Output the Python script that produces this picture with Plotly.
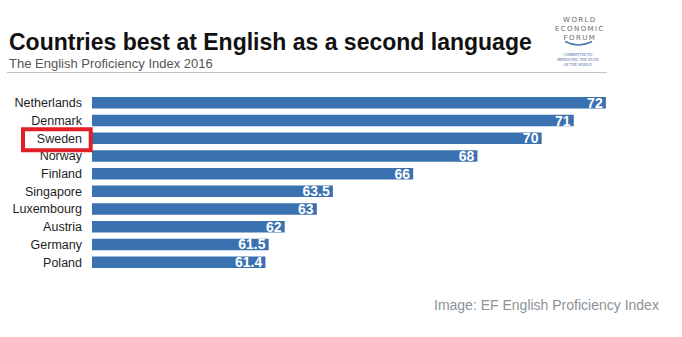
import plotly.graph_objects as go

countries = ["Netherlands", "Denmark", "Sweden", "Norway", "Finland",
             "Singapore", "Luxembourg", "Austria", "Germany", "Poland"]
scores = [72, 71, 70, 68, 66, 63.5, 63, 62, 61.5, 61.4]
score_labels = ["72", "71", "70", "68", "66", "63.5", "63", "62", "61.5", "61.4"]

title_text = "Countries best at English as a second language"
subtitle_text = "The English Proficiency Index 2016"
source_text = "Image: EF English Proficiency Index"
logo_words = ["WORLD", "ECONOMIC", "FORUM"]
tagline_text = "COMMITTED TO<br>IMPROVING THE STATE<br>OF THE WORLD"
highlight = "Sweden"

W, H = 682, 337
ML, MR, MT, MB = 92, 44, 94, 66
PW, PH = W - ML - MR, H - MT - MB
FONT = "Liberation Sans, Arial, Helvetica, sans-serif"


def px(x):
    return (x - ML) / PW


def py(y):
    return (H - MB - y) / PH


fig = go.Figure()
fig.add_trace(go.Bar(
    x=scores, y=countries, orientation="h",
    marker=dict(color="#3a71b1", line=dict(width=0)),
    text=score_labels, textposition="inside", insidetextanchor="end",
    textangle=0, constraintext="none",
    textfont=dict(family=FONT, size=14, color="white", weight="bold"),
    hoverinfo="skip",
))

fig.update_layout(
    width=W, height=H,
    margin=dict(l=ML, r=MR, t=MT, b=MB),
    paper_bgcolor="white", plot_bgcolor="white",
    bargap=0.35, showlegend=False,
    font=dict(family=FONT),
)
fig.update_xaxes(range=[56, 73], visible=False, showgrid=False, zeroline=False)
fig.update_yaxes(type="category", categoryorder="array", categoryarray=countries,
                 autorange="reversed", showgrid=False, zeroline=False, showline=False,
                 ticks="", ticklabelstandoff=9,
                 tickfont=dict(family=FONT, size=12.5, color="#1e1e1e"))

ann = []
ann.append(dict(text="<b>" + title_text + "</b>", x=px(7), y=py(42.5), xanchor="left",
                yanchor="middle", font=dict(family=FONT, size=23, color="#111111")))
ann.append(dict(text=subtitle_text, x=px(7), y=py(63.5), xanchor="left",
                yanchor="middle", font=dict(family=FONT, size=13, color="#555555")))
ann.append(dict(text=source_text, x=px(661), y=py(305), xanchor="right",
                yanchor="middle", font=dict(family=FONT, size=14, color="#8c9299")))
# logo
spaced = "<br>".join("\u2009".join(w) for w in logo_words)
ann.append(dict(text=spaced, x=px(578.5), y=py(28.5), xanchor="center", yanchor="middle",
                borderpad=0,
                font=dict(family="DejaVu Sans", size=7, color="#6a6a6a")))
ann.append(dict(text=tagline_text, x=px(578), y=py(59.5), xanchor="center", yanchor="middle",
                borderpad=0,
                font=dict(family="Liberation Serif", size=3.8, color="#3f5f9f")))
for a in ann:
    a.update(xref="paper", yref="paper", showarrow=False)
fig.update_layout(annotations=ann)

shapes = [
    dict(type="line", xref="paper", yref="paper", x0=px(7), x1=px(607), y0=py(72.5), y1=py(72.5),
         line=dict(color="#c4c4c4", width=1)),
    dict(type="path", xref="paper", yref="paper",
         path=f"M {px(565)} {py(41.5)} Q {px(578.5)} {py(48.5)} {px(592)} {py(41.5)}",
         line=dict(color="#4a7ab8", width=1.5)),
]
shapes.append(dict(type="rect", xref="paper", yref="paper",
                   x0=px(23), x1=px(90.7), y0=py(129.3), y1=py(150.3),
                   line=dict(color="#e11f27", width=4), fillcolor="rgba(0,0,0,0)"))
fig.update_layout(shapes=shapes)

fig.write_html("out.html")
